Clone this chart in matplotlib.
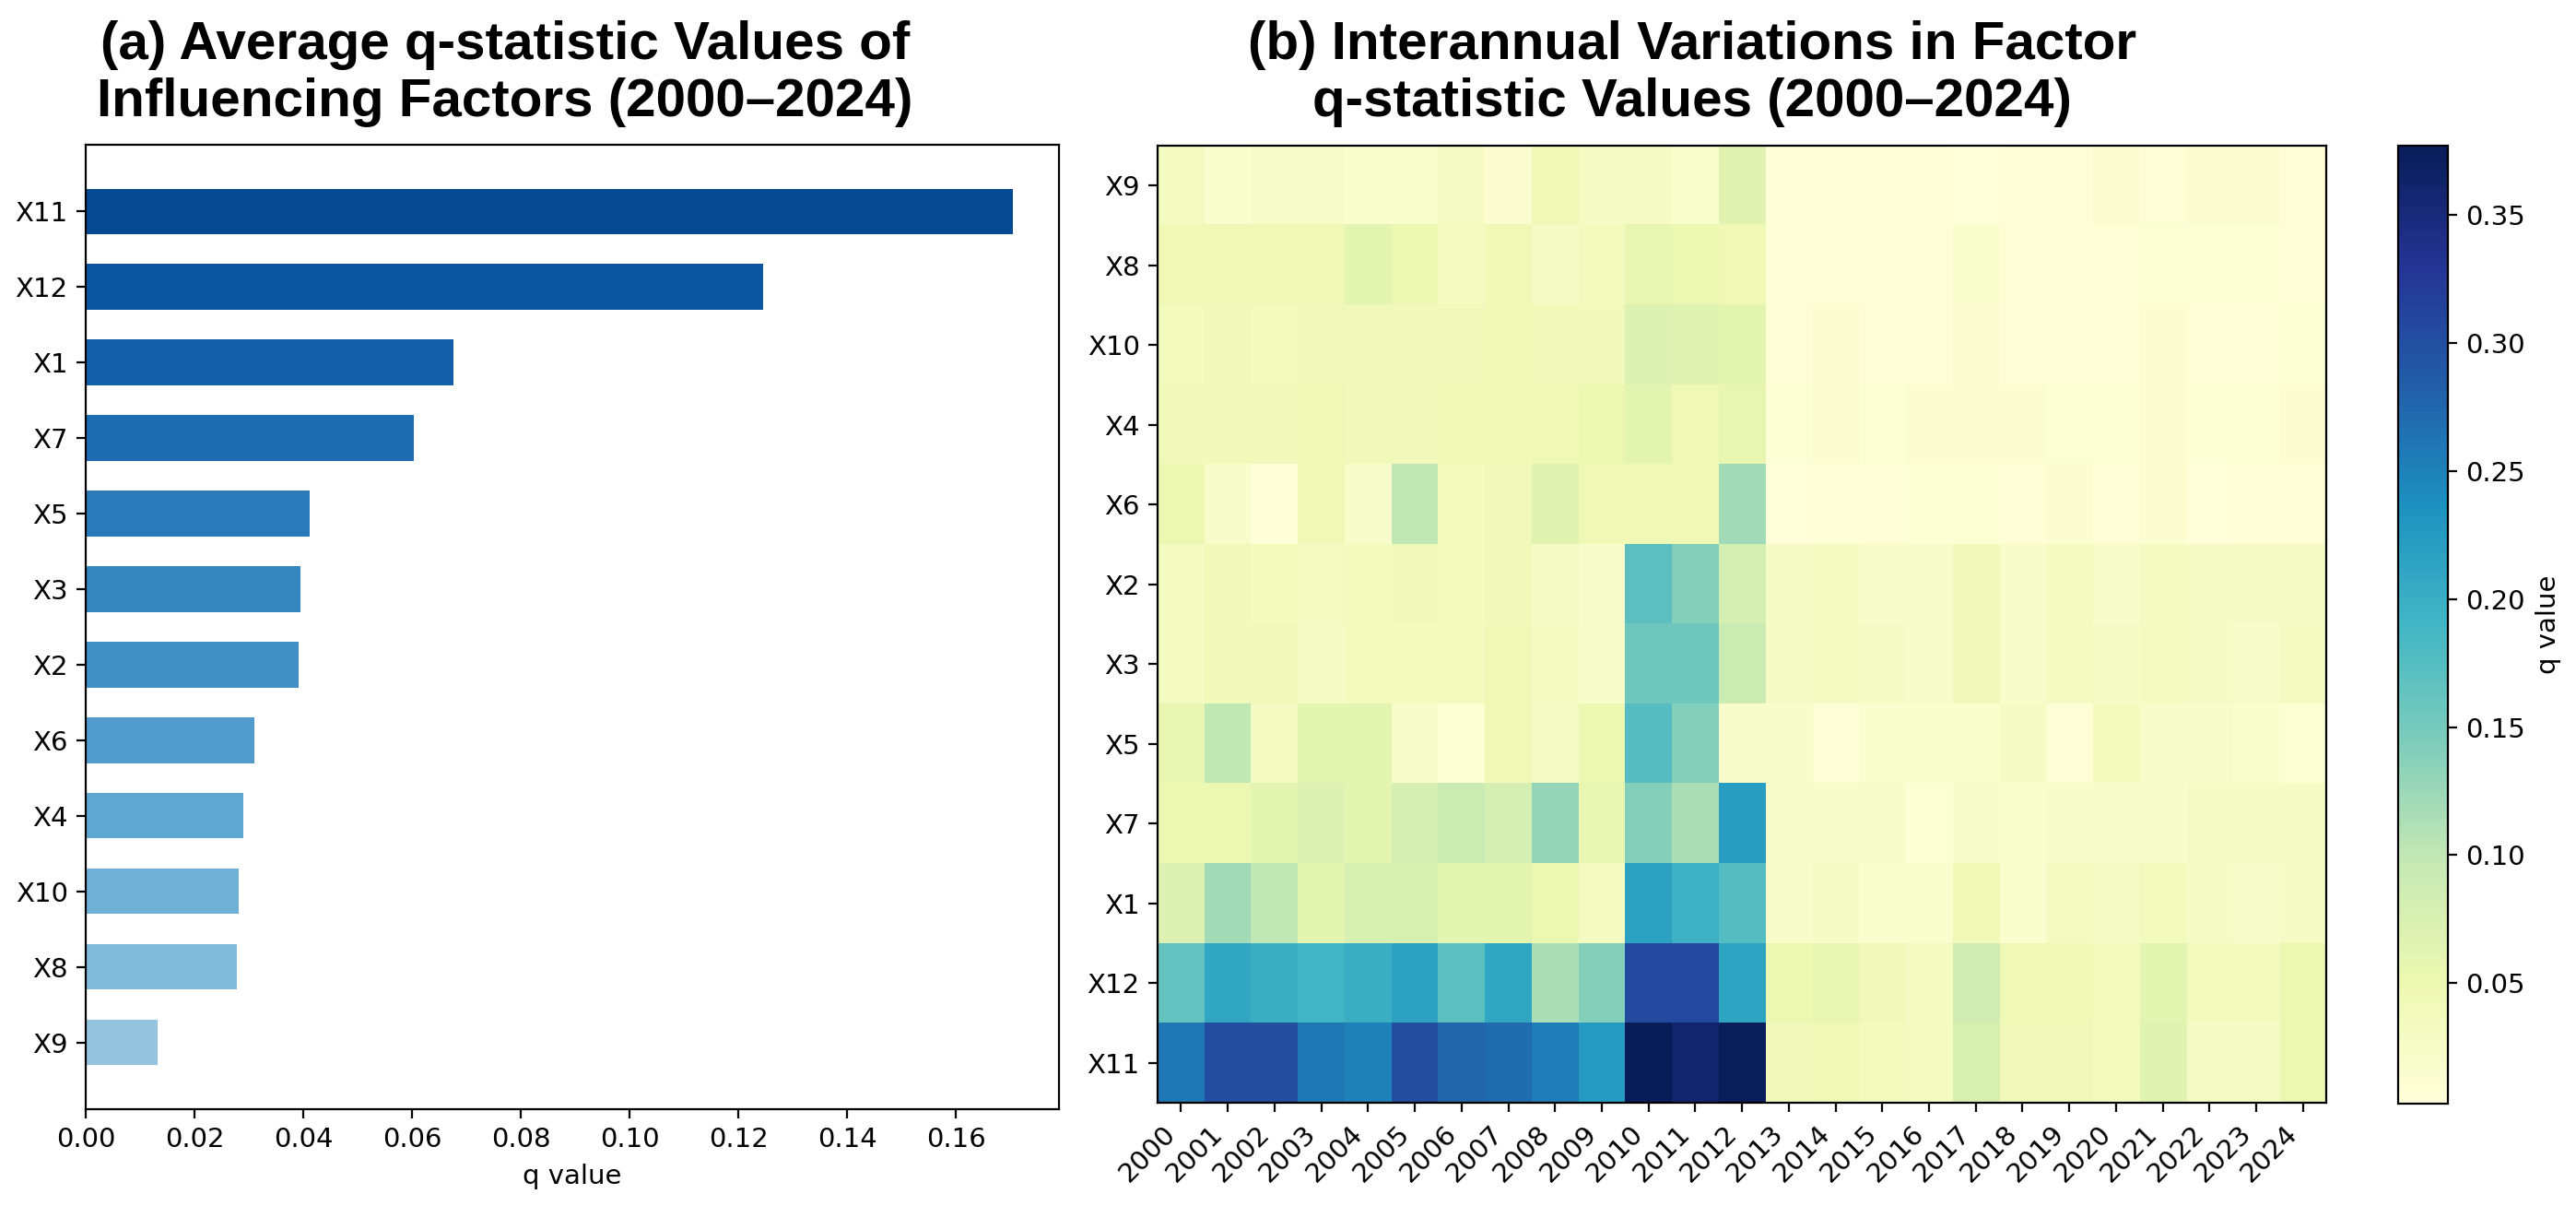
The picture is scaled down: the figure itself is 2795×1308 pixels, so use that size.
"""
Two panel figure: average q-statistic per factor (bar chart) and the
year by year q-statistic of each factor (heatmap), 2000-2024.
"""
import numpy as np
import matplotlib
matplotlib.use('Agg')
import matplotlib.pyplot as plt

plt.rcParams['font.family'] = 'DejaVu Sans'

# factors ordered from weakest to strongest (bottom -> top in the bar chart,
# top -> bottom in the heatmap)
factors = ['X9', 'X8', 'X10', 'X4', 'X6', 'X2', 'X3', 'X5', 'X7', 'X1', 'X12', 'X11']
avg_q = [0.0132, 0.0278, 0.0281, 0.0290, 0.0310, 0.0392, 0.0395, 0.0412,
         0.0603, 0.0676, 0.1246, 0.1704]

years = [str(y) for y in range(2000, 2025)]

# yearly q values, one list per factor (2000 ... 2024)
q_X9 = [0.030, 0.015, 0.020, 0.020, 0.015, 0.015, 0.025, 0.012, 0.045, 0.025, 0.025, 0.015, 0.065,
        0.006, 0.006, 0.005, 0.005, 0.004, 0.006, 0.008, 0.012, 0.008, 0.012, 0.012, 0.008]
q_X8 = [0.045, 0.045, 0.045, 0.045, 0.060, 0.050, 0.030, 0.045, 0.025, 0.035, 0.055, 0.050, 0.045,
        0.008, 0.008, 0.006, 0.006, 0.015, 0.006, 0.008, 0.006, 0.010, 0.010, 0.010, 0.008]
q_X10 = [0.035, 0.040, 0.035, 0.040, 0.040, 0.040, 0.040, 0.045, 0.040, 0.040, 0.070, 0.065, 0.060,
         0.008, 0.012, 0.006, 0.006, 0.012, 0.006, 0.006, 0.008, 0.012, 0.006, 0.006, 0.010]
q_X4 = [0.040, 0.040, 0.040, 0.045, 0.040, 0.040, 0.045, 0.045, 0.045, 0.050, 0.060, 0.045, 0.055,
        0.010, 0.012, 0.010, 0.012, 0.014, 0.012, 0.010, 0.010, 0.012, 0.010, 0.010, 0.012]
q_X6 = [0.050, 0.020, 0.005, 0.045, 0.020, 0.100, 0.035, 0.040, 0.065, 0.045, 0.045, 0.045, 0.120,
        0.004, 0.008, 0.008, 0.010, 0.010, 0.008, 0.012, 0.008, 0.012, 0.003, 0.008, 0.006]
q_X2 = [0.030, 0.040, 0.035, 0.030, 0.035, 0.040, 0.035, 0.040, 0.025, 0.020, 0.170, 0.140, 0.080,
        0.025, 0.030, 0.020, 0.020, 0.040, 0.020, 0.030, 0.020, 0.030, 0.025, 0.025, 0.025]
q_X3 = [0.030, 0.040, 0.040, 0.025, 0.035, 0.035, 0.035, 0.045, 0.030, 0.020, 0.155, 0.155, 0.090,
        0.025, 0.030, 0.025, 0.020, 0.040, 0.020, 0.030, 0.025, 0.030, 0.025, 0.020, 0.030]
q_X5 = [0.055, 0.100, 0.030, 0.060, 0.060, 0.020, 0.010, 0.045, 0.025, 0.050, 0.175, 0.140, 0.020,
        0.020, 0.008, 0.015, 0.015, 0.015, 0.025, 0.008, 0.035, 0.020, 0.020, 0.015, 0.010]
q_X7 = [0.050, 0.050, 0.060, 0.070, 0.060, 0.080, 0.090, 0.080, 0.130, 0.055, 0.140, 0.115, 0.222,
        0.020, 0.020, 0.020, 0.010, 0.020, 0.015, 0.020, 0.020, 0.020, 0.025, 0.025, 0.025]
q_X1 = [0.070, 0.120, 0.100, 0.060, 0.075, 0.075, 0.060, 0.060, 0.050, 0.030, 0.215, 0.195, 0.175,
        0.020, 0.025, 0.015, 0.015, 0.045, 0.015, 0.030, 0.025, 0.035, 0.025, 0.020, 0.025]
q_X12 = [0.165, 0.210, 0.200, 0.190, 0.200, 0.215, 0.170, 0.210, 0.115, 0.140, 0.305, 0.305, 0.212,
         0.050, 0.055, 0.040, 0.030, 0.085, 0.045, 0.045, 0.035, 0.060, 0.035, 0.035, 0.050]
q_X11 = [0.260, 0.300, 0.300, 0.260, 0.250, 0.300, 0.275, 0.270, 0.255, 0.225, 0.377, 0.360, 0.375,
         0.040, 0.045, 0.035, 0.030, 0.075, 0.040, 0.040, 0.035, 0.065, 0.025, 0.025, 0.050]

heat_rows = [q_X9, q_X8, q_X10, q_X4, q_X6, q_X2, q_X3, q_X5, q_X7, q_X1, q_X12, q_X11]


def plot_bars(ax):
    """Horizontal bars of the average q value, strongest factor on top."""
    pos = np.arange(len(factors))
    colors = plt.cm.Blues(np.linspace(0.4, 0.9, len(factors)))
    ax.barh(pos, avg_q, height=0.6, color=colors)
    ax.set_yticks(pos)
    ax.set_yticklabels(factors)
    ax.set_xticks(np.arange(0, 0.17, 0.02))
    ax.set_xlabel('q value', fontsize=10.5)
    ax.tick_params(labelsize=10.5)
    return ax


def plot_heat(ax, cax):
    """Heatmap of the yearly q values with a colour bar."""
    data = np.array(heat_rows)
    im = ax.imshow(data, cmap='YlGnBu', aspect='auto', interpolation='nearest')
    ax.set_xticks(np.arange(len(years)))
    ax.set_xticklabels(years, rotation=45, ha='right', rotation_mode='default')
    ax.set_yticks(np.arange(len(factors)))
    ax.set_yticklabels(factors)
    ax.tick_params(labelsize=10.5)

    cbar = plt.gcf().colorbar(im, cax=cax)
    cbar.set_label('q value', fontsize=10.5)
    cbar.ax.tick_params(labelsize=10.5)
    return ax


if __name__ == '__main__':
    fig = plt.figure(figsize=(13.975, 6.54), dpi=200)

    ax_bar = fig.add_axes([0.0333, 0.0803, 0.3778, 0.7997])
    ax_heat = fig.add_axes([0.4494, 0.0856, 0.4537, 0.7936])
    cax = fig.add_axes([0.9309, 0.0849, 0.0193, 0.7943])

    plot_bars(ax_bar)
    plot_heat(ax_heat, cax)

    # panel titles
    fig.text(0.196, 0.939, '(a) Average q-statistic Values of\nInfluencing Factors (2000\u20132024)',
             ha='center', va='center', fontsize=21, fontweight='bold',
             family=['Liberation Sans', 'DejaVu Sans'])
    fig.text(0.657, 0.939, '(b) Interannual Variations in Factor\nq-statistic Values (2000\u20132024)',
             ha='center', va='center', fontsize=21, fontweight='bold',
             family=['Liberation Sans', 'DejaVu Sans'])

    fig.savefig('out.png', dpi=200)
